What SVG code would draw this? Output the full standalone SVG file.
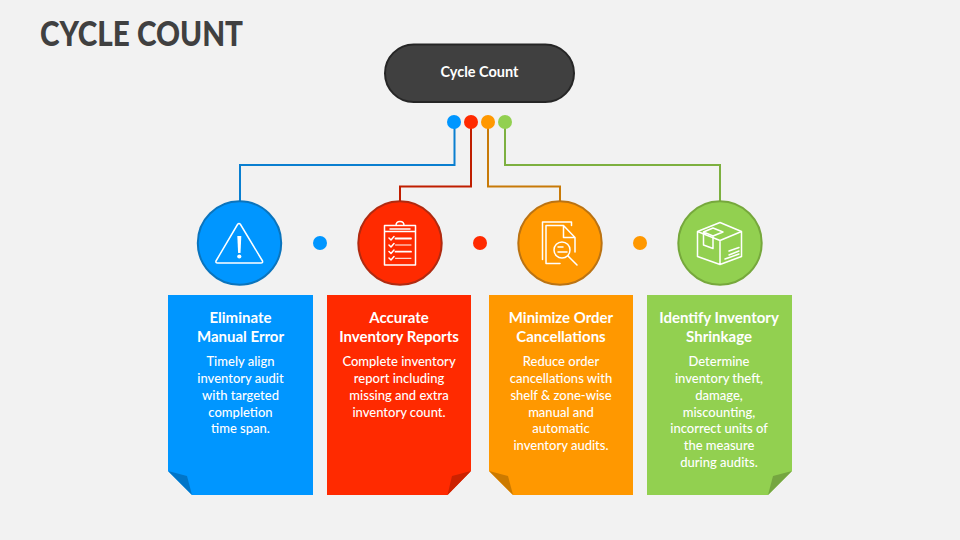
<svg xmlns="http://www.w3.org/2000/svg" width="960" height="540" viewBox="0 0 960 540">
<style>
text{font-family:"Lato","Open Sans","Liberation Sans",sans-serif;text-anchor:middle;fill:#fff}
.h{font-size:15px;font-weight:700}
.b{font-size:13px;font-weight:500}
.c{fill:none;stroke-width:2}
.i{fill:none;stroke:#fff;stroke-width:1.5;stroke-linejoin:round;stroke-linecap:round}
.w{fill:#fff}
</style>
<rect width="960" height="540" fill="#f2f2f2"/>
<text id="title" x="40" y="46" textLength="203" lengthAdjust="spacingAndGlyphs" style="text-anchor:start;fill:#404040;font-size:33.5px;font-weight:900">CYCLE COUNT</text>

<g id="connectors">
<path class="c" stroke="#0a7fd0" d="M454.500 122V165H240V201"/>
<path class="c" stroke="#c01e00" d="M471 122V186.500H400V201"/>
<path class="c" stroke="#c87a08" d="M488 122V186.500H560V201"/>
<path class="c" stroke="#7db040" d="M505 122V165H720V201"/>
</g>

<g id="root">
<rect x="385" y="44.500" width="189" height="57.500" rx="28.700" fill="#404040" stroke="#262626" stroke-width="2"/>
<text x="479.500" y="77" style="font-size:14.500px;font-weight:700">Cycle Count</text>
</g>
<g id="port-dots">
<circle cx="454" cy="122" r="7" fill="#0096ff"/>
<circle cx="471" cy="122" r="7" fill="#ff2a00"/>
<circle cx="488" cy="122" r="7" fill="#ff9800"/>
<circle cx="505" cy="122" r="7" fill="#92d050"/>
</g>
<g id="separators">
<circle cx="320" cy="243" r="7" fill="#0096ff"/>
<circle cx="480" cy="243" r="7" fill="#ff2a00"/>
<circle cx="640" cy="243" r="7" fill="#ff9800"/>
</g>

<g id="node-1">
<circle cx="239.500" cy="243" r="41.700" fill="#0096ff" stroke="#0a74bd" stroke-width="2"/>
<path class="i" d="M240.500 224.500L262.500 261Q263 263 261 263H217.500Q215.500 263 216 261L237.500 224.500Q239 222.500 240.500 224.500Z"/>
<path class="w" d="M237.300 236H241.300L240.500 253H238.100Z"/>
<circle class="w" cx="239.300" cy="256.500" r="2.100"/>
<path d="M168 295H313V495H192L168 471Z" fill="#0096ff"/>
<path d="M168 471L187 476L192 495Z" fill="#0075c8"/>
<text class="h" x="240.500" y="323">Eliminate</text>
<text class="h" x="240.500" y="342">Manual Error</text>
<text class="b" x="240.500" y="366">Timely align</text>
<text class="b" x="240.500" y="383">inventory audit</text>
<text class="b" x="240.500" y="400">with targeted</text>
<text class="b" x="240.500" y="417">completion</text>
<text class="b" x="240.500" y="433">time span.</text>
</g>

<g id="node-2">
<circle cx="400" cy="243" r="41.700" fill="#ff2a00" stroke="#b02a10" stroke-width="2"/>
<path class="i" d="M384.500 225.500H415.500V265H384.500ZM384.500 231.500H415.500M390 229H410M396 225.500Q396 221.500 400 221.500Q404 221.500 404 225.500"/>
<path class="i" d="M389 238L391 240L394 236.500M389 245L391 247L394 243.500M389 251.500L391 253.500L394 250M389 258L391 260L394 256.500"/>
<path class="i" style="stroke-width:1.800" d="M395.500 238.500H411M395.500 251.700H411"/>
<path class="i" style="stroke-width:1" d="M395.500 245H411M395.500 258.300H411"/>
<path d="M327 295H471V471L447.500 495H327Z" fill="#ff2a00"/>
<path d="M471 471L452 476L447.500 495Z" fill="#cc2200"/>
<text class="h" x="399" y="323">Accurate</text>
<text class="h" x="399" y="342">Inventory Reports</text>
<text class="b" x="399" y="366">Complete inventory</text>
<text class="b" x="399" y="383">report including</text>
<text class="b" x="399" y="400">missing and extra</text>
<text class="b" x="399" y="417">inventory count.</text>
</g>

<g id="node-3">
<circle cx="560" cy="243" r="41.700" fill="#ff9800" stroke="#bb7312" stroke-width="2"/>
<path class="i" d="M542.500 259.500V222H571.500V225.500"/>
<path class="i" d="M546 263.500V225.500H563.500L575 237.500V252M563.500 225.500V237.500H575M546 263.500H560"/>
<circle class="i" cx="562" cy="250" r="8"/>
<path class="i" d="M568 256L577 265M558 247H563M558 252H567"/>
<path d="M489 295H633V495H513L489 471Z" fill="#ff9800"/>
<path d="M489 471L508 476L513 495Z" fill="#cc7a00"/>
<text class="h" x="561" y="323">Minimize Order</text>
<text class="h" x="561" y="342">Cancellations</text>
<text class="b" x="561" y="366">Reduce order</text>
<text class="b" x="561" y="383">cancellations with</text>
<text class="b" x="561" y="400">shelf &amp; zone-wise</text>
<text class="b" x="561" y="417">manual and</text>
<text class="b" x="561" y="433">automatic</text>
<text class="b" x="561" y="450">inventory audits.</text>
</g>

<g id="node-4">
<circle cx="720" cy="243" r="41.700" fill="#92d050" stroke="#76a83c" stroke-width="2"/>
<path class="i" d="M697.500 231.500L720 222.500L741.500 231.500V256.500L720 264.500L697.500 256.500ZM697.500 231.500L720 240.500L741.500 231.500M720 240.500V264.500"/>
<path class="i" d="M703.500 232L713 228L723 232L713 236ZM703.500 232V245L713 248.500V236"/>
<path class="i" d="M725 259L739 254M729 255L739 251M729 251L739 247.500"/>
<path d="M647 295H792V471L768 495H647Z" fill="#92d050"/>
<path d="M792 471L773 476L768 495Z" fill="#75a640"/>
<text class="h" x="719" y="323">Identify Inventory</text>
<text class="h" x="719" y="342">Shrinkage</text>
<text class="b" x="719" y="366">Determine</text>
<text class="b" x="719" y="383">inventory theft,</text>
<text class="b" x="719" y="400">damage,</text>
<text class="b" x="719" y="417">miscounting,</text>
<text class="b" x="719" y="433">incorrect units of</text>
<text class="b" x="719" y="450">the measure</text>
<text class="b" x="719" y="467">during audits.</text>
</g>
</svg>
